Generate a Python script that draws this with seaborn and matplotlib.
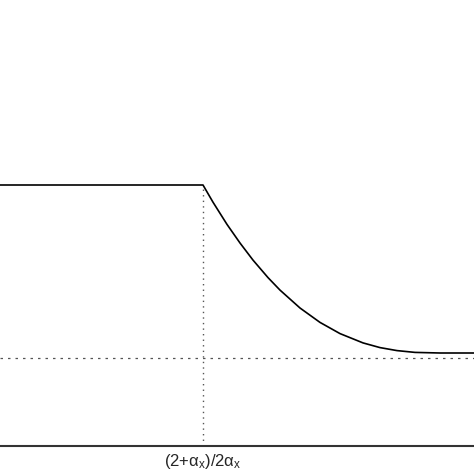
import matplotlib
matplotlib.use("Agg")
import matplotlib.pyplot as plt
import seaborn as sns
import pandas as pd

# data (x: horizontal position, y: height above the axis)
x_vals = [0, 203, 213, 227, 240, 253, 268, 280, 300, 320, 340, 363, 380, 397, 415, 440, 474]
y_vals = [261, 261, 243.8, 221.6, 203, 185.9, 168.4, 155.9, 138, 123.6, 112.4, 103.1, 98.4, 95.4, 93.6, 93, 93]
kink_x = 203
kink_y = 261
asymptote = 88
tick_label = r"(2+$\alpha_{x}$)/2$\alpha_{x}$"

sns.set_style("white")
plt.rcParams['font.family'] = ['Liberation Sans', 'DejaVu Sans']
plt.rcParams['mathtext.fontset'] = 'custom'
plt.rcParams['mathtext.rm'] = 'Liberation Sans'
plt.rcParams['mathtext.it'] = 'Liberation Sans'
plt.rcParams['mathtext.default'] = 'regular'

fig = plt.figure(figsize=(4.74, 4.74), dpi=100)
ax = fig.add_axes([0, 28 / 474, 1, 446 / 474])

df = pd.DataFrame({"x": x_vals, "y": y_vals})
sns.lineplot(data=df, x="x", y="y", ax=ax, color="black", linewidth=1.2, sort=False)

ax.plot([kink_x, kink_x], [0, kink_y], linestyle=(0, (1, 3)), color="#555555", linewidth=1.0)
ax.axhline(asymptote, linestyle=(0, (2, 4)), color="#555555", linewidth=0.9)

ax.set_xlim(0, 474)
ax.set_ylim(0, 446)
for s in ["top", "right", "left"]:
    ax.spines[s].set_visible(False)
ax.spines["bottom"].set_color("#333333")
ax.spines["bottom"].set_linewidth(1.5)
ax.set_yticks([])
ax.set_xticks([kink_x])
ax.set_xticklabels([tick_label], fontsize=12)
ax.tick_params(axis="x", length=0, pad=4)
ax.set_xlabel("")
ax.set_ylabel("")

fig.savefig("out.png", dpi=100)
